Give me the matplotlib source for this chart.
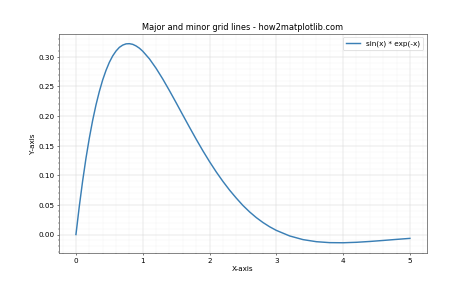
import matplotlib.pyplot as plt
from matplotlib.ticker import AutoMinorLocator

# values
x = [0.0, 0.05, 0.1, 0.15, 0.2, 0.25, 0.3, 0.35, 0.4, 0.45, 0.5, 0.55, 0.6,
     0.65, 0.7, 0.75, 0.8, 0.85, 0.9, 0.95, 1.0, 1.1, 1.2, 1.3, 1.4, 1.5,
     1.6, 1.7, 1.8, 1.9, 2.0, 2.1, 2.2, 2.3, 2.4, 2.5, 2.6, 2.7, 2.8, 2.9,
     3.0, 3.2, 3.4, 3.6, 3.8, 4.0, 4.2, 4.4, 4.6, 4.8, 5.0]
y = [0.0, 0.0475, 0.0903, 0.1288, 0.1627, 0.1927, 0.2189, 0.2415, 0.2610,
     0.2772, 0.2908, 0.3016, 0.3099, 0.3161, 0.3199, 0.3220, 0.3223, 0.3212,
     0.3185, 0.3147, 0.3096, 0.2967, 0.2807, 0.2626, 0.2430, 0.2226, 0.2018,
     0.1812, 0.1610, 0.1415, 0.1231, 0.1058, 0.0898, 0.0750, 0.0616, 0.0491,
     0.0382, 0.0286, 0.0203, 0.0131, 0.0070, -0.0024, -0.0086, -0.0121,
     -0.0137, -0.0139, -0.0131, -0.0117, -0.0100, -0.0082, -0.0065]

fig = plt.figure(figsize=(10, 6), dpi=47.4)
ax = fig.add_subplot(111)

ax.plot(x, y, color='#3a7fb5', linewidth=2.2, label='sin(x) * exp(-x)')

ax.xaxis.set_minor_locator(AutoMinorLocator())
ax.yaxis.set_minor_locator(AutoMinorLocator())
ax.grid(which='major', color='#cccccc', linestyle='-', linewidth=0.6)
ax.grid(which='minor', color='#e0e0e0', linestyle=':', linewidth=0.6)

for s in ax.spines.values():
    s.set_color('#666666')
    s.set_linewidth(1.2)

ax.set_title('Major and minor grid lines - how2matplotlib.com', fontsize=12.5)
ax.set_xlabel('X-axis', fontsize=11)
ax.set_ylabel('Y-axis', fontsize=11)
ax.tick_params(labelsize=11)
ax.legend(fontsize=11)

fig.savefig('out.png', dpi=47.4)
